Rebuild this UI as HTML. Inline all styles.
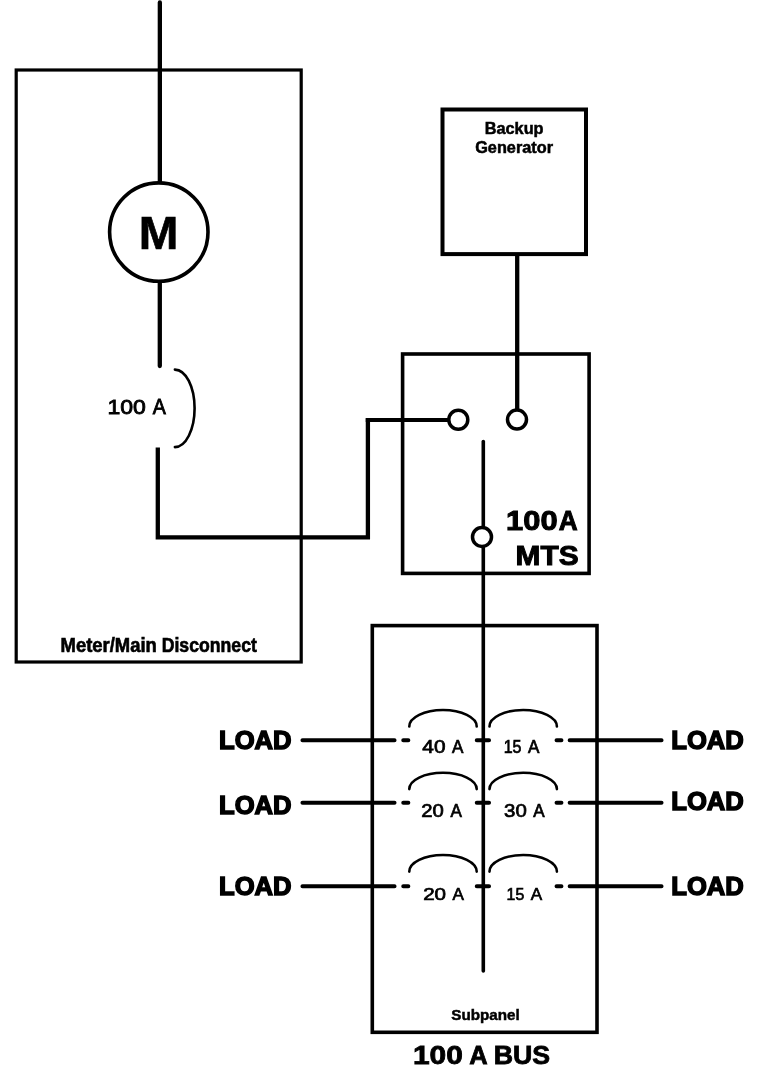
<!DOCTYPE html>
<html><head><meta charset="utf-8"><title>Diagram</title>
<style>
html,body{margin:0;padding:0;background:#fff}
svg{display:block;will-change:transform}
text{font-family:"Liberation Sans",sans-serif;fill:#000;stroke:#000;stroke-linejoin:miter;font-kerning:none}
.b{fill:none;stroke:#000;stroke-width:3.2}
.g{fill:none;stroke:#000;stroke-width:4}
.w{fill:none;stroke:#000;stroke-width:4.3}
.t{fill:none;stroke:#000;stroke-width:3.6}
.r{fill:none;stroke:#000;stroke-width:4.1;stroke-linecap:round}
.a{fill:none;stroke:#000;stroke-width:2.6;stroke-linecap:round}
.c{fill:#fff;stroke:#000;stroke-width:3.5}
</style></head>
<body>
<svg width="768" height="1077" viewBox="0 0 768 1077">
<rect width="768" height="1077" fill="#fff"/>
<!-- meter / main disconnect box -->
<rect class="b" x="16.2" y="70" width="285" height="592"/>
<!-- service line -->
<path class="w" stroke-linecap="round" d="M159.85 2.4 V182"/>
<circle cx="158.8" cy="232.1" r="49.2" fill="#fff" stroke="#000" stroke-width="3.6"/>
<path class="w" d="M159.8 283 V366" stroke-linecap="round"/>
<path class="a" d="M174.9 369.6 A19.7 38.75 0 0 1 174.9 447.1"/>
<path class="w" stroke-linejoin="miter" d="M157.8 447.5 V537.3 H367.9 V418.2"/>
<path class="t" style="stroke-width:3.8" d="M365.75 420 H448"/>
<!-- generator -->
<rect class="g" x="442.5" y="109.5" width="143.5" height="144.6"/>
<path class="w" d="M517.2 256 V409"/>
<!-- MTS -->
<rect class="t" x="402.6" y="354" width="186.5" height="219.4"/>
<path class="t" stroke-linecap="round" d="M483.3 441.5 V971"/>
<circle class="c" cx="458.3" cy="419.8" r="9.5"/>
<circle class="c" cx="517" cy="419.6" r="9.5"/>
<circle class="c" cx="482" cy="536.9" r="9.5"/>
<!-- subpanel -->
<rect class="t" x="372.3" y="625.6" width="224.7" height="406.7"/>
<path class="r" d="M302.5 740.2 H394.5 M403.3 740.2 H408.3 M476.8 740.2 H489 M556.6 740.2 H561.4 M569.7 740.2 H661.5"/>
<path class="a" d="M409.3 726.4 A33.7 16.4 0 0 1 476.7 726.4 M489.5 726.4 A33.7 16.4 0 0 1 556.9 726.4"/>
<path class="r" d="M302.5 802.8 H394.5 M403.3 802.8 H408.3 M476.8 802.8 H489 M556.6 802.8 H561.4 M569.7 802.8 H661.5"/>
<path class="a" d="M409.3 789.1 A33.7 16.3 0 0 1 476.7 789.1 M489.5 789.1 A33.7 16.3 0 0 1 556.9 789.1"/>
<path class="r" d="M302.5 886.2 H394.5 M403.3 886.2 H408.3 M476.8 886.2 H489 M556.6 886.2 H561.4 M569.7 886.2 H661.5"/>
<path class="a" d="M409.3 871.6 A33.7 16.6 0 0 1 476.7 871.6 M489.5 871.6 A33.7 16.6 0 0 1 556.9 871.6"/>
<text transform="translate(138.87 248.65) scale(1.0203 1)" font-size="46.66" font-weight="bold" stroke-width="0.70">M</text>
<text transform="translate(107.41 414.47) scale(1.0891 1)" font-size="21.15" font-weight="normal" stroke-width="0.85">100</text>
<text transform="translate(152.66 414.47) scale(0.9278 1)" font-size="21.15" font-weight="normal" stroke-width="0.85">A</text>
<text transform="translate(60.56 652.39) scale(0.9473 1)" font-size="19.46" font-weight="bold" stroke-width="0.61">Meter/Main</text>
<text transform="translate(161.70 652.39) scale(0.9079 1)" font-size="19.46" font-weight="bold" stroke-width="0.61">Disconnect</text>
<text transform="translate(484.66 134.04) scale(0.9948 1)" font-size="16.40" font-weight="bold" stroke-width="0.51">Backup</text>
<text transform="translate(475.19 153.24) scale(0.9854 1)" font-size="16.54" font-weight="bold" stroke-width="0.52">Generator</text>
<text transform="translate(506.11 529.60) scale(1.1061 1)" font-size="27.91" font-weight="bold" stroke-width="1.00">100</text>
<text transform="translate(558.82 529.60) scale(0.9380 1)" font-size="27.91" font-weight="bold" stroke-width="1.00">A</text>
<text transform="translate(515.53 564.60) scale(1.0549 1)" font-size="28.34" font-weight="bold" stroke-width="1.00">MTS</text>
<text transform="translate(219.04 748.75) scale(1.0065 1)" font-size="25.44" font-weight="bold" stroke-width="1.50">LOAD</text>
<text transform="translate(219.03 813.50) scale(0.9926 1)" font-size="25.80" font-weight="bold" stroke-width="1.50">LOAD</text>
<text transform="translate(219.03 894.75) scale(0.9926 1)" font-size="25.80" font-weight="bold" stroke-width="1.50">LOAD</text>
<text transform="translate(671.28 748.50) scale(0.9926 1)" font-size="25.80" font-weight="bold" stroke-width="1.50">LOAD</text>
<text transform="translate(671.28 809.75) scale(0.9926 1)" font-size="25.80" font-weight="bold" stroke-width="1.50">LOAD</text>
<text transform="translate(671.28 894.75) scale(0.9926 1)" font-size="25.80" font-weight="bold" stroke-width="1.50">LOAD</text>
<text transform="translate(451.30 1020.36) scale(1.0051 1)" font-size="15.15" font-weight="bold" stroke-width="0.48">Subpanel</text>
<text transform="translate(412.89 1064.10) scale(1.1750 1)" font-size="25.44" font-weight="bold" stroke-width="0.80">100</text>
<text transform="translate(469.37 1064.10) scale(1.0019 1)" font-size="25.44" font-weight="bold" stroke-width="0.80">A</text>
<text transform="translate(493.63 1064.10) scale(1.0499 1)" font-size="25.44" font-weight="bold" stroke-width="0.80">BUS</text>
<text transform="translate(422.34 752.85) scale(1.1840 1)" font-size="17.59" font-weight="normal" stroke-width="0.70">40</text>
<text transform="translate(452.01 752.85) scale(0.9707 1)" font-size="17.59" font-weight="normal" stroke-width="0.70">A</text>
<text transform="translate(503.70 752.85) scale(0.9101 1)" font-size="17.59" font-weight="normal" stroke-width="0.70">15</text>
<text transform="translate(528.06 752.85) scale(0.9707 1)" font-size="17.59" font-weight="normal" stroke-width="0.70">A</text>
<text transform="translate(421.28 816.90) scale(1.1511 1)" font-size="17.66" font-weight="normal" stroke-width="0.70">20</text>
<text transform="translate(450.41 816.90) scale(0.9669 1)" font-size="17.66" font-weight="normal" stroke-width="0.70">A</text>
<text transform="translate(504.12 817.15) scale(1.1402 1)" font-size="17.88" font-weight="normal" stroke-width="0.70">30</text>
<text transform="translate(533.30 817.15) scale(0.9558 1)" font-size="17.88" font-weight="normal" stroke-width="0.70">A</text>
<text transform="translate(423.13 900.25) scale(1.1906 1)" font-size="17.30" font-weight="normal" stroke-width="0.70">20</text>
<text transform="translate(452.56 900.25) scale(0.9861 1)" font-size="17.30" font-weight="normal" stroke-width="0.70">A</text>
<text transform="translate(506.61 900.25) scale(0.9164 1)" font-size="17.30" font-weight="normal" stroke-width="0.70">15</text>
<text transform="translate(530.81 900.25) scale(0.9861 1)" font-size="17.30" font-weight="normal" stroke-width="0.70">A</text>
</svg>
</body></html>
